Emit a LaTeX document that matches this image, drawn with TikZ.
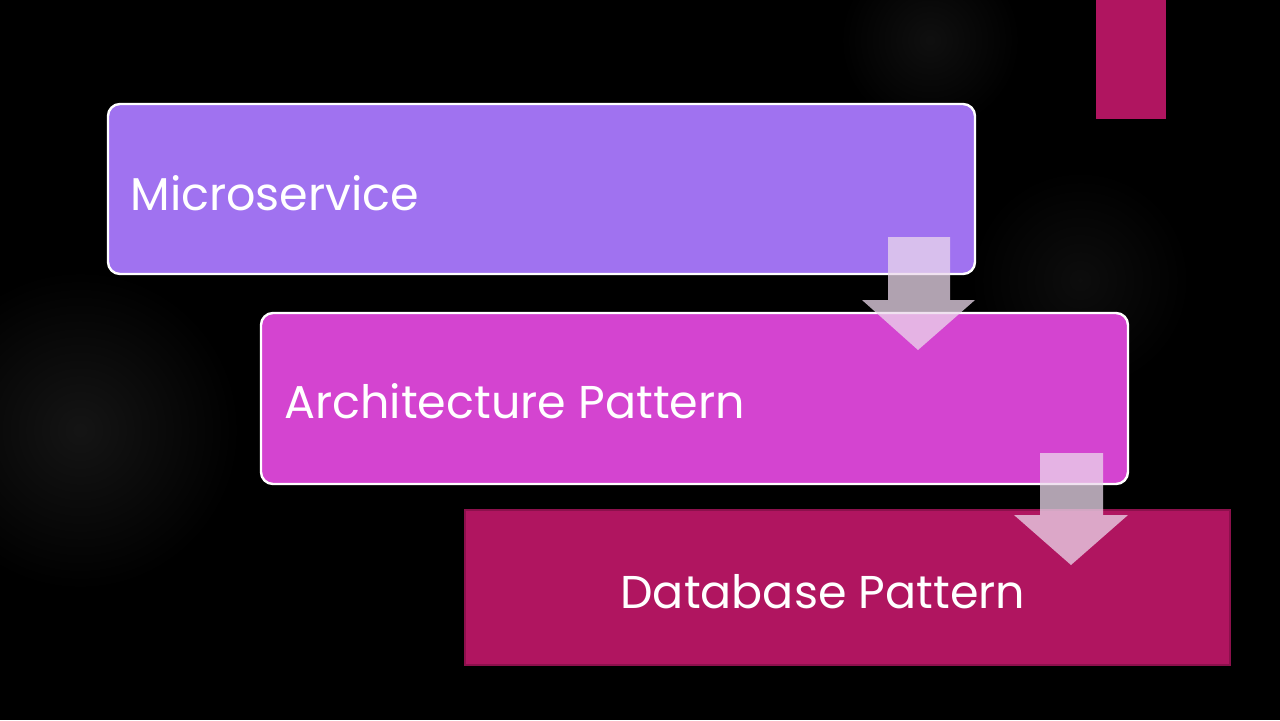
\documentclass[tikz,border=0pt]{standalone}
\usepackage{fontspec}
\setmainfont{Poppins}
\begin{document}
\begin{tikzpicture}[x=0.5pt,y=-0.5pt,
  box/.style={draw=white,line width=1.2pt,rounded corners=6pt},
  lbl/.style={anchor=base west,text=white,inner sep=0pt,font=\fontsize{23}{26}\selectfont},
  arr/.style={fill=white!85!violet,fill opacity=0.75,draw=none}]
\fill[black] (0,0) rectangle (1280,720);
\useasboundingbox (0,0) rectangle (1280,720);
\fill[inner color=white!8!black,outer color=black] (80,430) circle (160);
\fill[inner color=white!6!black,outer color=black] (930,40) circle (90);
\fill[inner color=white!5!black,outer color=black] (1080,280) circle (110);
\fill[fill={rgb,255:red,176;green,21;blue,96}] (1096,0) rectangle (1166,119);
\draw[box,fill={rgb,255:red,160;green,114;blue,240}] (108,104) rectangle (975,274);
\draw[box,fill={rgb,255:red,212;green,68;blue,208}] (261,313) rectangle (1128,484);
\draw[draw={rgb,255:red,140;green,16;blue,76},line width=1pt,fill={rgb,255:red,176;green,21;blue,96}] (465,510) rectangle (1230,665);
\fill[arr] (888,237) -- (950,237) -- (950,300) -- (975,300) -- (918,350) -- (862,300) -- (888,300) -- cycle;
\fill[arr] (1040,453) -- (1103,453) -- (1103,515) -- (1128,515) -- (1071,565) -- (1014,515) -- (1040,515) -- cycle;
\node[lbl] (t1) at (130,210) {Microservice};
\node[lbl] (t2) at (284,418) {Architecture Pattern};
\node[lbl] (t3) at (620,608) {Database Pattern};
\end{tikzpicture}
\end{document}
